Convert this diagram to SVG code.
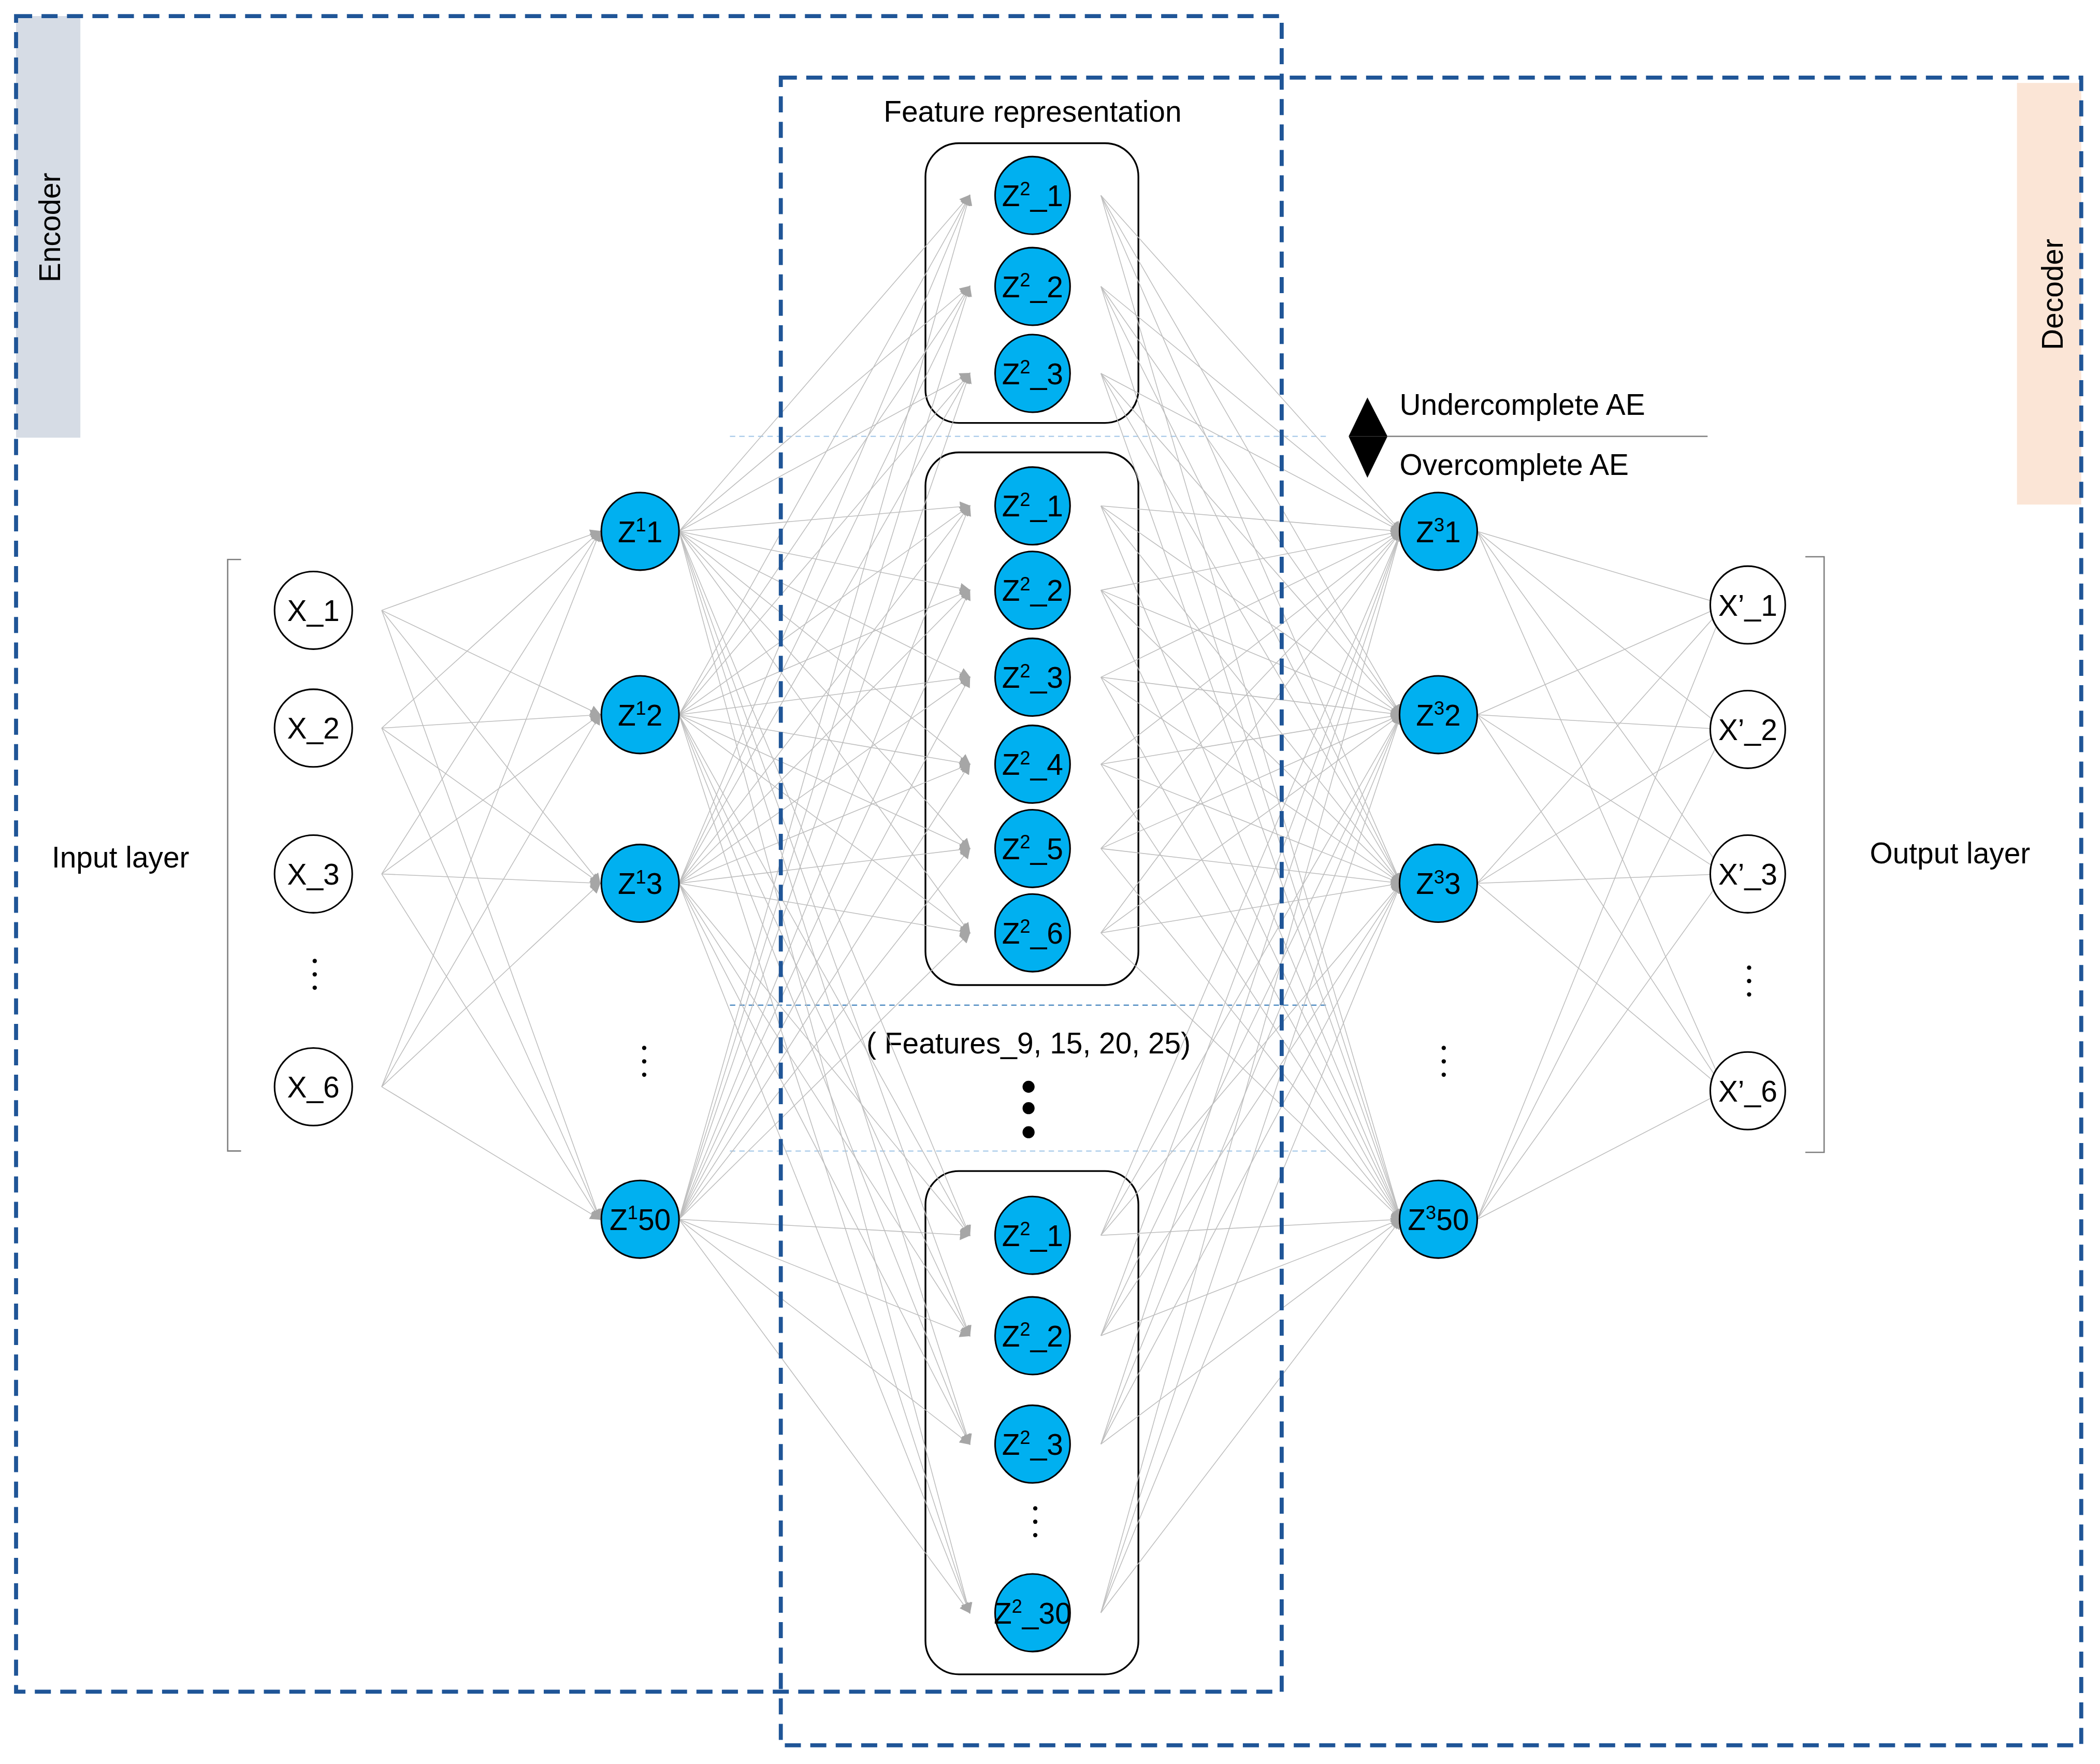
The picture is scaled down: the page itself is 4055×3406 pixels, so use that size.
<svg xmlns="http://www.w3.org/2000/svg" width="4055" height="3406" viewBox="0 0 4055 3406">
<defs>
<marker id="ah" viewBox="0 0 10 10" refX="9" refY="5" markerWidth="8" markerHeight="8" markerUnits="userSpaceOnUse" orient="auto"><path d="M0,0L10,5L0,10z" fill="#a6a6a6"/></marker>
<style>
.t{font-family:"Liberation Sans","Open Sans",sans-serif;font-size:22px;fill:#000}
.n{font-family:"Liberation Sans","Open Sans",sans-serif;font-size:22px;fill:#000;text-anchor:middle}
.b{fill:#00b0f0;stroke:#000;stroke-width:1.2}
.w{fill:#fff;stroke:#000;stroke-width:1.2}
.c line{stroke:#bdbdbd;stroke-width:0.6;marker-end:url(#ah)}
.dash{fill:none;stroke:#1f5597;stroke-width:3;stroke-dasharray:12 7}
.box{fill:none;stroke:#000;stroke-width:1.3}
</style>
</defs>
<rect width="4055" height="3406" fill="#fff"/>
<g transform="scale(2.5861,2.5842)">
<rect x="12" y="12" width="48" height="315" fill="#d6dce5"/>
<rect x="1506" y="62" width="48" height="315" fill="#fbe5d6"/>
<text class="t" transform="translate(45,170) rotate(-90)" text-anchor="middle" font-size="24">Encoder</text>
<text class="t" transform="translate(1540,220) rotate(-90)" text-anchor="middle" font-size="24">Decoder</text>
<rect class="box" x="691" y="107" width="159" height="209" rx="25"/>
<rect class="box" x="691" y="338" width="159" height="398" rx="25"/>
<rect class="box" x="691" y="875" width="159" height="376" rx="25"/>
<line x1="545" y1="326" x2="993" y2="326" stroke="#9dc3e6" stroke-width="0.8" stroke-dasharray="4 3"/>
<line x1="545" y1="751" x2="993" y2="751" stroke="#2e75b6" stroke-width="0.8" stroke-dasharray="4 3"/>
<line x1="545" y1="860" x2="993" y2="860" stroke="#9dc3e6" stroke-width="0.8" stroke-dasharray="4 3"/>
<path d="M180 418H170V860H180M1348 416H1362V861H1348" fill="none" stroke="#7f7f7f" stroke-width="1"/>
<line x1="1036" y1="326" x2="1275" y2="326" stroke="#7f7f7f" stroke-width="1"/>
<path d="M1021 297L1036 326H1007Z" fill="#000"/>
<path d="M1007 326H1036L1021 357Z" fill="#000"/>
<text class="n" x="771" y="91">Feature representation</text>
<text class="t" x="1045" y="310">Undercomplete AE</text>
<text class="t" x="1045" y="355">Overcomplete AE</text>
<text class="n" x="90" y="648">Input layer</text>
<text class="n" x="1456" y="645">Output layer</text>
<text class="n" x="768" y="787">( Features_9, 15, 20, 25)</text>
<g fill="#000"><circle cx="768" cy="812" r="4.5"/><circle cx="768" cy="828" r="4.5"/><circle cx="768" cy="846" r="4.5"/>
<circle cx="235" cy="718" r="1.6"/><circle cx="235" cy="728" r="1.6"/><circle cx="235" cy="738" r="1.6"/>
<circle cx="481" cy="783" r="1.6"/><circle cx="481" cy="793" r="1.6"/><circle cx="481" cy="803" r="1.6"/>
<circle cx="1078" cy="783" r="1.6"/><circle cx="1078" cy="793" r="1.6"/><circle cx="1078" cy="803" r="1.6"/>
<circle cx="1306" cy="723" r="1.6"/><circle cx="1306" cy="733" r="1.6"/><circle cx="1306" cy="743" r="1.6"/>
<circle cx="773" cy="1127" r="1.6"/><circle cx="773" cy="1137" r="1.6"/><circle cx="773" cy="1147" r="1.6"/></g>
<g id="connectors" class="c">
<line x1="285" y1="456" x2="448" y2="397"/><line x1="285" y1="456" x2="448" y2="534"/><line x1="285" y1="456" x2="448" y2="660"/><line x1="285" y1="456" x2="448" y2="911"/>
<line x1="285" y1="544" x2="448" y2="397"/><line x1="285" y1="544" x2="448" y2="534"/><line x1="285" y1="544" x2="448" y2="660"/><line x1="285" y1="544" x2="448" y2="911"/>
<line x1="285" y1="653" x2="448" y2="397"/><line x1="285" y1="653" x2="448" y2="534"/><line x1="285" y1="653" x2="448" y2="660"/><line x1="285" y1="653" x2="448" y2="911"/>
<line x1="285" y1="812" x2="448" y2="397"/><line x1="285" y1="812" x2="448" y2="534"/><line x1="285" y1="812" x2="448" y2="660"/><line x1="285" y1="812" x2="448" y2="911"/>
<line x1="507" y1="397" x2="724" y2="146"/><line x1="507" y1="397" x2="724" y2="214"/><line x1="507" y1="397" x2="724" y2="279"/><line x1="507" y1="397" x2="724" y2="378"/><line x1="507" y1="397" x2="724" y2="441"/><line x1="507" y1="397" x2="724" y2="506"/><line x1="507" y1="397" x2="724" y2="571"/><line x1="507" y1="397" x2="724" y2="634"/><line x1="507" y1="397" x2="724" y2="697"/><line x1="507" y1="397" x2="724" y2="923"/><line x1="507" y1="397" x2="724" y2="998"/><line x1="507" y1="397" x2="724" y2="1079"/><line x1="507" y1="397" x2="724" y2="1205"/>
<line x1="507" y1="534" x2="724" y2="146"/><line x1="507" y1="534" x2="724" y2="214"/><line x1="507" y1="534" x2="724" y2="279"/><line x1="507" y1="534" x2="724" y2="378"/><line x1="507" y1="534" x2="724" y2="441"/><line x1="507" y1="534" x2="724" y2="506"/><line x1="507" y1="534" x2="724" y2="571"/><line x1="507" y1="534" x2="724" y2="634"/><line x1="507" y1="534" x2="724" y2="697"/><line x1="507" y1="534" x2="724" y2="923"/><line x1="507" y1="534" x2="724" y2="998"/><line x1="507" y1="534" x2="724" y2="1079"/><line x1="507" y1="534" x2="724" y2="1205"/>
<line x1="507" y1="660" x2="724" y2="146"/><line x1="507" y1="660" x2="724" y2="214"/><line x1="507" y1="660" x2="724" y2="279"/><line x1="507" y1="660" x2="724" y2="378"/><line x1="507" y1="660" x2="724" y2="441"/><line x1="507" y1="660" x2="724" y2="506"/><line x1="507" y1="660" x2="724" y2="571"/><line x1="507" y1="660" x2="724" y2="634"/><line x1="507" y1="660" x2="724" y2="697"/><line x1="507" y1="660" x2="724" y2="923"/><line x1="507" y1="660" x2="724" y2="998"/><line x1="507" y1="660" x2="724" y2="1079"/><line x1="507" y1="660" x2="724" y2="1205"/>
<line x1="507" y1="911" x2="724" y2="146"/><line x1="507" y1="911" x2="724" y2="214"/><line x1="507" y1="911" x2="724" y2="279"/><line x1="507" y1="911" x2="724" y2="378"/><line x1="507" y1="911" x2="724" y2="441"/><line x1="507" y1="911" x2="724" y2="506"/><line x1="507" y1="911" x2="724" y2="571"/><line x1="507" y1="911" x2="724" y2="634"/><line x1="507" y1="911" x2="724" y2="697"/><line x1="507" y1="911" x2="724" y2="923"/><line x1="507" y1="911" x2="724" y2="998"/><line x1="507" y1="911" x2="724" y2="1079"/><line x1="507" y1="911" x2="724" y2="1205"/>
<line x1="822" y1="146" x2="1046" y2="397"/><line x1="822" y1="146" x2="1046" y2="534"/><line x1="822" y1="146" x2="1046" y2="660"/><line x1="822" y1="146" x2="1046" y2="911"/>
<line x1="822" y1="214" x2="1046" y2="397"/><line x1="822" y1="214" x2="1046" y2="534"/><line x1="822" y1="214" x2="1046" y2="660"/><line x1="822" y1="214" x2="1046" y2="911"/>
<line x1="822" y1="279" x2="1046" y2="397"/><line x1="822" y1="279" x2="1046" y2="534"/><line x1="822" y1="279" x2="1046" y2="660"/><line x1="822" y1="279" x2="1046" y2="911"/>
<line x1="822" y1="378" x2="1046" y2="397"/><line x1="822" y1="378" x2="1046" y2="534"/><line x1="822" y1="378" x2="1046" y2="660"/><line x1="822" y1="378" x2="1046" y2="911"/>
<line x1="822" y1="441" x2="1046" y2="397"/><line x1="822" y1="441" x2="1046" y2="534"/><line x1="822" y1="441" x2="1046" y2="660"/><line x1="822" y1="441" x2="1046" y2="911"/>
<line x1="822" y1="506" x2="1046" y2="397"/><line x1="822" y1="506" x2="1046" y2="534"/><line x1="822" y1="506" x2="1046" y2="660"/><line x1="822" y1="506" x2="1046" y2="911"/>
<line x1="822" y1="571" x2="1046" y2="397"/><line x1="822" y1="571" x2="1046" y2="534"/><line x1="822" y1="571" x2="1046" y2="660"/><line x1="822" y1="571" x2="1046" y2="911"/>
<line x1="822" y1="634" x2="1046" y2="397"/><line x1="822" y1="634" x2="1046" y2="534"/><line x1="822" y1="634" x2="1046" y2="660"/><line x1="822" y1="634" x2="1046" y2="911"/>
<line x1="822" y1="697" x2="1046" y2="397"/><line x1="822" y1="697" x2="1046" y2="534"/><line x1="822" y1="697" x2="1046" y2="660"/><line x1="822" y1="697" x2="1046" y2="911"/>
<line x1="822" y1="923" x2="1046" y2="397"/><line x1="822" y1="923" x2="1046" y2="534"/><line x1="822" y1="923" x2="1046" y2="660"/><line x1="822" y1="923" x2="1046" y2="911"/>
<line x1="822" y1="998" x2="1046" y2="397"/><line x1="822" y1="998" x2="1046" y2="534"/><line x1="822" y1="998" x2="1046" y2="660"/><line x1="822" y1="998" x2="1046" y2="911"/>
<line x1="822" y1="1079" x2="1046" y2="397"/><line x1="822" y1="1079" x2="1046" y2="534"/><line x1="822" y1="1079" x2="1046" y2="660"/><line x1="822" y1="1079" x2="1046" y2="911"/>
<line x1="822" y1="1205" x2="1046" y2="397"/><line x1="822" y1="1205" x2="1046" y2="534"/><line x1="822" y1="1205" x2="1046" y2="660"/><line x1="822" y1="1205" x2="1046" y2="911"/>
<line x1="1103" y1="397" x2="1288" y2="452"/><line x1="1103" y1="397" x2="1288" y2="545"/><line x1="1103" y1="397" x2="1288" y2="653"/><line x1="1103" y1="397" x2="1288" y2="815"/>
<line x1="1103" y1="534" x2="1288" y2="452"/><line x1="1103" y1="534" x2="1288" y2="545"/><line x1="1103" y1="534" x2="1288" y2="653"/><line x1="1103" y1="534" x2="1288" y2="815"/>
<line x1="1103" y1="660" x2="1288" y2="452"/><line x1="1103" y1="660" x2="1288" y2="545"/><line x1="1103" y1="660" x2="1288" y2="653"/><line x1="1103" y1="660" x2="1288" y2="815"/>
<line x1="1103" y1="911" x2="1288" y2="452"/><line x1="1103" y1="911" x2="1288" y2="545"/><line x1="1103" y1="911" x2="1288" y2="653"/><line x1="1103" y1="911" x2="1288" y2="815"/>
</g>
<g id="x1"><ellipse class="w" cx="234" cy="456" rx="29" ry="29"/><text class="n" x="234" y="464">X_1</text></g>
<g id="x2"><ellipse class="w" cx="234" cy="544" rx="29" ry="29"/><text class="n" x="234" y="552">X_2</text></g>
<g id="x3"><ellipse class="w" cx="234" cy="653" rx="29" ry="29"/><text class="n" x="234" y="661">X_3</text></g>
<g id="x6"><ellipse class="w" cx="234" cy="812" rx="29" ry="29"/><text class="n" x="234" y="820">X_6</text></g>
<g id="xo1"><ellipse class="w" cx="1305" cy="452" rx="28" ry="29"/><text class="n" x="1305" y="460">X’_1</text></g>
<g id="xo2"><ellipse class="w" cx="1305" cy="545" rx="28" ry="29"/><text class="n" x="1305" y="553">X’_2</text></g>
<g id="xo3"><ellipse class="w" cx="1305" cy="653" rx="28" ry="29"/><text class="n" x="1305" y="661">X’_3</text></g>
<g id="xo6"><ellipse class="w" cx="1305" cy="815" rx="28" ry="29"/><text class="n" x="1305" y="823">X’_6</text></g>
<g id="z1_1"><ellipse class="b" cx="478" cy="397" rx="29" ry="29"/><text class="n" x="478" y="405">Z<tspan font-size="14" dy="-8">1</tspan><tspan dy="8">1</tspan></text></g>
<g id="z1_2"><ellipse class="b" cx="478" cy="534" rx="29" ry="29"/><text class="n" x="478" y="542">Z<tspan font-size="14" dy="-8">1</tspan><tspan dy="8">2</tspan></text></g>
<g id="z1_3"><ellipse class="b" cx="478" cy="660" rx="29" ry="29"/><text class="n" x="478" y="668">Z<tspan font-size="14" dy="-8">1</tspan><tspan dy="8">3</tspan></text></g>
<g id="z1_50"><ellipse class="b" cx="478" cy="911" rx="29" ry="29"/><text class="n" x="478" y="919">Z<tspan font-size="14" dy="-8">1</tspan><tspan dy="8">50</tspan></text></g>
<g id="z3_1"><ellipse class="b" cx="1074" cy="397" rx="29" ry="29"/><text class="n" x="1074" y="405">Z<tspan font-size="14" dy="-8">3</tspan><tspan dy="8">1</tspan></text></g>
<g id="z3_2"><ellipse class="b" cx="1074" cy="534" rx="29" ry="29"/><text class="n" x="1074" y="542">Z<tspan font-size="14" dy="-8">3</tspan><tspan dy="8">2</tspan></text></g>
<g id="z3_3"><ellipse class="b" cx="1074" cy="660" rx="29" ry="29"/><text class="n" x="1074" y="668">Z<tspan font-size="14" dy="-8">3</tspan><tspan dy="8">3</tspan></text></g>
<g id="z3_50"><ellipse class="b" cx="1074" cy="911" rx="29" ry="29"/><text class="n" x="1074" y="919">Z<tspan font-size="14" dy="-8">3</tspan><tspan dy="8">50</tspan></text></g>
<g id="z2a_1"><ellipse class="b" cx="771" cy="146" rx="28" ry="29"/><text class="n" x="771" y="154">Z<tspan font-size="14" dy="-8">2</tspan><tspan dy="8">_1</tspan></text></g>
<g id="z2a_2"><ellipse class="b" cx="771" cy="214" rx="28" ry="29"/><text class="n" x="771" y="222">Z<tspan font-size="14" dy="-8">2</tspan><tspan dy="8">_2</tspan></text></g>
<g id="z2a_3"><ellipse class="b" cx="771" cy="279" rx="28" ry="29"/><text class="n" x="771" y="287">Z<tspan font-size="14" dy="-8">2</tspan><tspan dy="8">_3</tspan></text></g>
<g id="z2b_1"><ellipse class="b" cx="771" cy="378" rx="28" ry="29"/><text class="n" x="771" y="386">Z<tspan font-size="14" dy="-8">2</tspan><tspan dy="8">_1</tspan></text></g>
<g id="z2b_2"><ellipse class="b" cx="771" cy="441" rx="28" ry="29"/><text class="n" x="771" y="449">Z<tspan font-size="14" dy="-8">2</tspan><tspan dy="8">_2</tspan></text></g>
<g id="z2b_3"><ellipse class="b" cx="771" cy="506" rx="28" ry="29"/><text class="n" x="771" y="514">Z<tspan font-size="14" dy="-8">2</tspan><tspan dy="8">_3</tspan></text></g>
<g id="z2b_4"><ellipse class="b" cx="771" cy="571" rx="28" ry="29"/><text class="n" x="771" y="579">Z<tspan font-size="14" dy="-8">2</tspan><tspan dy="8">_4</tspan></text></g>
<g id="z2b_5"><ellipse class="b" cx="771" cy="634" rx="28" ry="29"/><text class="n" x="771" y="642">Z<tspan font-size="14" dy="-8">2</tspan><tspan dy="8">_5</tspan></text></g>
<g id="z2b_6"><ellipse class="b" cx="771" cy="697" rx="28" ry="29"/><text class="n" x="771" y="705">Z<tspan font-size="14" dy="-8">2</tspan><tspan dy="8">_6</tspan></text></g>
<g id="z2c_1"><ellipse class="b" cx="771" cy="923" rx="28" ry="29"/><text class="n" x="771" y="931">Z<tspan font-size="14" dy="-8">2</tspan><tspan dy="8">_1</tspan></text></g>
<g id="z2c_2"><ellipse class="b" cx="771" cy="998" rx="28" ry="29"/><text class="n" x="771" y="1006">Z<tspan font-size="14" dy="-8">2</tspan><tspan dy="8">_2</tspan></text></g>
<g id="z2c_3"><ellipse class="b" cx="771" cy="1079" rx="28" ry="29"/><text class="n" x="771" y="1087">Z<tspan font-size="14" dy="-8">2</tspan><tspan dy="8">_3</tspan></text></g>
<g id="z2c_30"><ellipse class="b" cx="771" cy="1205" rx="28" ry="29"/><text class="n" x="771" y="1213">Z<tspan font-size="14" dy="-8">2</tspan><tspan dy="8">_30</tspan></text></g>
<rect class="dash" x="12" y="12" width="945" height="1252"/>
<rect class="dash" x="583" y="58" width="971" height="1246"/>
</g>
</svg>
